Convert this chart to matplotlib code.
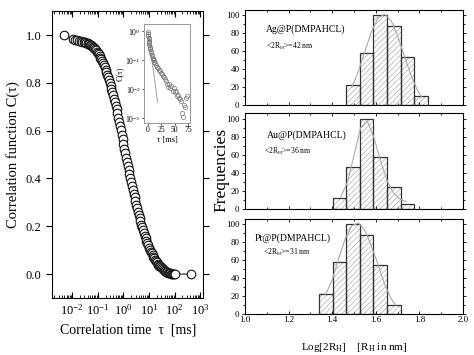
import numpy as np
import matplotlib
matplotlib.use('Agg')
import matplotlib.pyplot as plt
from matplotlib.ticker import MultipleLocator, LogLocator, NullFormatter

plt.rcParams['font.family'] = ['Liberation Serif', 'DejaVu Serif']
plt.rcParams['mathtext.fontset'] = 'stix'
plt.rcParams['hatch.linewidth'] = 0.5

# correlation function, main panel
tau = [0.005, 0.0105, 0.013, 0.016, 0.019, 0.022, 0.025, 0.028, 0.032, 0.036,
       0.040, 0.043, 0.046, 0.050, 0.054, 0.058, 0.063, 0.068, 0.073, 0.079, 0.085, 0.092,
       0.10, 0.108, 0.117, 0.126, 0.136, 0.147, 0.158, 0.171, 0.185, 0.20,
       0.215, 0.232, 0.25, 0.27, 0.29, 0.316, 0.34, 0.37, 0.40, 0.43,
       0.46, 0.50, 0.54, 0.58, 0.63, 0.68, 0.73, 0.79, 0.85, 0.92,
       1.0, 1.08, 1.17, 1.26, 1.36, 1.47, 1.58, 1.71, 1.85, 2.0,
       2.15, 2.32, 2.5, 2.7, 2.9, 3.16, 3.4, 3.7, 4.0, 4.3,
       4.6, 5.0, 5.4, 5.8, 6.3, 6.8, 7.3, 7.9, 8.5, 9.2,
       10, 10.8, 11.7, 12.6, 13.6, 14.7, 15.8, 17.1, 18.5, 20,
       21.5, 23.2, 25, 27, 29, 31.6, 34, 37, 40, 43,
       46, 50, 54, 58, 63, 68, 73, 79, 85, 92,
       100, 420]
corr = [1.0, 0.983, 0.981, 0.979, 0.977, 0.975, 0.973, 0.971, 0.969, 0.967,
        0.966, 0.964, 0.962, 0.960, 0.957, 0.954, 0.951, 0.947, 0.944, 0.940, 0.936, 0.930,
        0.925, 0.919, 0.912, 0.906, 0.899, 0.892, 0.885, 0.875, 0.865, 0.855,
        0.845, 0.833, 0.823, 0.811, 0.801, 0.788, 0.776, 0.762, 0.748, 0.734,
        0.721, 0.705, 0.689, 0.673, 0.655, 0.637, 0.620, 0.601, 0.583, 0.564,
        0.543, 0.524, 0.505, 0.487, 0.470, 0.453, 0.437, 0.420, 0.403, 0.386,
        0.370, 0.353, 0.337, 0.322, 0.307, 0.290, 0.276, 0.261, 0.246, 0.234,
        0.222, 0.207, 0.195, 0.184, 0.170, 0.160, 0.150, 0.140, 0.130, 0.120,
        0.110, 0.102, 0.094, 0.087, 0.080, 0.073, 0.066, 0.060, 0.055, 0.049,
        0.044, 0.040, 0.035, 0.032, 0.028, 0.024, 0.020, 0.016, 0.013, 0.011,
        0.009, 0.007, 0.006, 0.005, 0.004, 0.003, 0.002, 0.0015, 0.001, 0.0005,
        0.0, 0.0]

# inset (log C vs linear tau)
in_tau = [0.1, 0.3, 0.5, 0.8, 1.0, 1.3, 1.6, 2.0, 2.5, 3.0, 3.5, 4, 5, 6, 7, 8, 9, 10,
          11, 12, 13.5, 15, 16.5, 18, 20, 22, 24, 26, 28, 30, 32, 34, 36, 38, 40,
          42, 44, 46, 48, 50, 52, 54, 56, 58, 60, 62, 64, 66, 68, 70, 72, 74]
in_c = [0.925, 0.80, 0.71, 0.60, 0.54, 0.48, 0.435, 0.39, 0.336, 0.30, 0.272, 0.247,
        0.21, 0.18, 0.155, 0.138, 0.122, 0.11, 0.10, 0.09, 0.08, 0.07, 0.061, 0.055,
        0.048, 0.042, 0.037, 0.033, 0.029, 0.026, 0.022, 0.02, 0.016, 0.012, 0.015,
        0.011, 0.013, 0.009, 0.011, 0.008, 0.009, 0.006, 0.0065, 0.005, 0.0045, 0.004,
        0.0015, 0.0011, 0.003, 0.0025, 0.005, 0.006]
fit_tau = [0, 18]
fit_c = [1.0, 0.0035]

# size distributions
bin_w = 0.062
labels = ['Ag@P(DMPAHCL)', 'Au@P(DMPAHCL)', 'Pt@P(DMPAHCL)']
sizes = ['42', '36', '31']
centers = [[1.496, 1.558, 1.620, 1.682, 1.744, 1.806],
           [1.434, 1.496, 1.558, 1.620, 1.682, 1.744],
           [1.372, 1.434, 1.496, 1.558, 1.620, 1.682]]
freqs = [[22, 58, 100, 88, 54, 10],
         [12, 47, 100, 58, 24, 5],
         [22, 58, 100, 88, 54, 10]]
fit_x = [[1.49, 1.52, 1.55, 1.58, 1.61, 1.64, 1.67, 1.70, 1.73, 1.76, 1.79, 1.81],
         [1.44, 1.47, 1.50, 1.53, 1.56, 1.59, 1.62, 1.65, 1.68, 1.71, 1.74],
         [1.37, 1.40, 1.43, 1.46, 1.49, 1.52, 1.55, 1.58, 1.61, 1.64, 1.67, 1.69]]
fit_y = [[20, 38, 60, 82, 97, 101, 94, 77, 55, 34, 17, 9],
         [14, 30, 60, 90, 98, 80, 55, 32, 18, 11, 8],
         [22, 38, 62, 84, 98, 101, 93, 75, 55, 33, 17, 10]]
label_xy = [(1.097, 84), (1.10, 82), (1.046, 84)]
size_xy = [(1.097, 65), (1.086, 64), (1.08, 68)]

fig = plt.figure(figsize=(4.74, 3.55), dpi=100)

# ---- left: correlation function
ax = fig.add_axes([0.110, 0.1606, 0.319, 0.808])
ax.plot(tau, corr, '-o', color='#222222', lw=0.8, ms=6.2, mfc='white', mec='#111111', mew=0.8)
ax.set_xscale('log')
ax.set_xlim(1.65e-3, 1.31e3)
ax.set_ylim(-0.1, 1.1)
ax.yaxis.set_major_locator(MultipleLocator(0.2))
ax.yaxis.set_minor_locator(MultipleLocator(0.1))
ax.xaxis.set_major_locator(LogLocator(base=10, numticks=20))
ax.xaxis.set_minor_locator(LogLocator(base=10, subs=np.arange(2, 10), numticks=20))
ax.xaxis.set_minor_formatter(NullFormatter())
ax.tick_params(axis='y', which='both', direction='out', labelsize=9)
ax.tick_params(axis='y', which='major', length=4)
ax.tick_params(axis='y', which='minor', length=0)
ax.tick_params(axis='x', which='both', direction='in', top=True, labelsize=9)
ax.tick_params(axis='x', which='major', length=4)
ax.tick_params(axis='x', which='minor', length=2)
ax.tick_params(right=True)
ax.set_yticklabels(['%.1f' % v for v in ax.get_yticks()])
ax.set_ylabel('Correlation function C(τ)', fontsize=10.5, labelpad=4)
ax.set_xlabel('Correlation time  τ  [ms]', fontsize=10)

# inset
ins = fig.add_axes([0.304, 0.6535, 0.097, 0.279])
ins.plot(fit_tau, fit_c, color='#aaaaaa', lw=0.8)
ins.plot(in_tau, in_c, 'o', ms=3, mfc='none', mec='#777777', mew=0.5)
ins.set_yscale('log')
ins.set_xlim(-7.5, 79)
ins.set_ylim(10 ** -3.16, 10 ** 0.26)
ins.set_xticks([0, 25, 50, 75])
ins.set_yticks([1, 0.1, 0.01, 0.001])
ins.yaxis.set_minor_formatter(NullFormatter())
ins.tick_params(which='both', labelsize=5.5, length=1.5, width=0.5, pad=1)
ins.tick_params(which='minor', length=0)
for sp in ins.spines.values():
    sp.set_color('#999999')
    sp.set_linewidth(0.7)
ins.set_ylabel('C(τ)', fontsize=6, labelpad=1)
ins.set_xlabel('τ [ms]', fontsize=6, labelpad=1)

# ---- right: histograms
bottoms = [0.7034, 0.4113, 0.1155]
for i in range(3):
    hx = fig.add_axes([0.517, bottoms[i], 0.460, 0.269])
    hx.bar(centers[i], freqs[i], width=bin_w, color='white', edgecolor='#b0b0b0',
           hatch='//////', linewidth=0)
    hx.bar(centers[i], freqs[i], width=bin_w, fill=False, edgecolor='#333333', linewidth=0.9)
    hx.plot(fit_x[i], fit_y[i], color='#aaaaaa', lw=0.8)
    hx.set_xlim(1.0, 2.0)
    hx.set_ylim(0, 106)
    hx.xaxis.set_major_locator(MultipleLocator(0.2))
    hx.xaxis.set_minor_locator(MultipleLocator(0.1))
    hx.yaxis.set_major_locator(MultipleLocator(20))
    hx.yaxis.set_minor_locator(MultipleLocator(10))
    hx.tick_params(which='both', labelsize=6.5, top=True, right=True, width=0.6, pad=1.5)
    hx.tick_params(axis='y', which='both', direction='out')
    hx.tick_params(axis='x', which='both', direction='in')
    hx.tick_params(which='major', length=2.5)
    hx.tick_params(which='minor', length=1.5)
    for sp in hx.spines.values():
        sp.set_linewidth(0.8)
    hx.text(label_xy[i][0], label_xy[i][1], labels[i], fontsize=7, va='center')
    hx.text(size_xy[i][0], size_xy[i][1], r'<2R$_\mathrm{H}$>=' + sizes[i] + ' nm',
            fontsize=5.5, va='center')
    if i < 2:
        hx.set_xticklabels([])
    else:
        hx.set_xticklabels(['%.1f' % v for v in hx.get_xticks()])
        hx.set_xlabel(r'Log[2R$_\mathrm{H}$]    [R$_\mathrm{H}$ in nm]', fontsize=8, labelpad=12)

fig.text(0.468, 0.52, 'Frequencies', rotation=90, fontsize=12.5, ha='center', va='center')

plt.savefig('out.png', dpi=100)
